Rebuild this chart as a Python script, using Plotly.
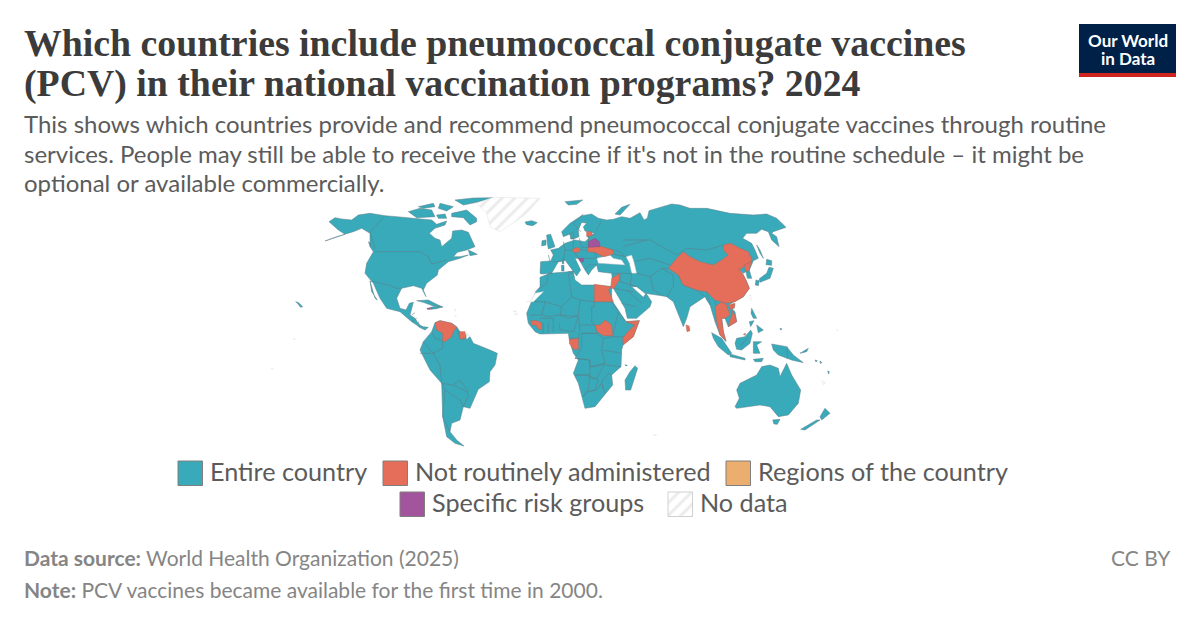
import plotly.graph_objects as go

W_PAD_X, W_PAD_Y = 260, 190   # map units for the western tracing sheet
E_PAD_X, E_PAD_Y = 540, 190   # map units for the eastern tracing sheet

TITLE_LINES = ["Which countries include pneumococcal conjugate vaccines",
               "(PCV) in their national vaccination programs? 2024"]
SUBTITLE_LINES = ["This shows which countries provide and recommend pneumococcal conjugate vaccines through routine",
                  "services. People may still be able to receive the vaccine if it's not in the routine schedule – it might be",
                  "optional or available commercially."]
LEGEND_NAMES = ["Entire country", "Not routinely administered", "Regions of the country", "Specific risk groups", "No data"]
LEGEND_COLORS = ["#38AABA", "#E56E5A", "#EBAE6E", "#A2559C", "#ffffff"]

# ---- Americas (western sheet) ----
NORTH_AMERICA = [(195,153),(230,140),(255,133),(235,120),(225,110),(207,95),(225,83),(245,87),(275,90),(295,75),(330,70),(375,77),(410,80),(450,83),(470,85),(515,90),(530,103),(560,93),(555,105),(525,115),(508,130),(525,145),(540,150),(545,170),(575,145),(578,123),(605,120),(625,127),(645,170),(620,180),(592,187),(580,200),(600,200),(625,195),(600,205),(565,215),(535,240),(532,255),(500,280),(490,300),(498,320),(485,295),(460,287),(425,295),(410,325),(420,355),(438,360),(448,340),(460,337),(455,360),(450,375),(465,385),(478,405),(490,410),(505,412),(495,420),(478,412),(470,405),(455,395),(420,365),(380,355),(360,325),(340,280),(315,250),(320,220),(340,185),(330,170),(330,130),(305,115),(280,125),(230,140)]
BAJA = [(330,273),(345,325),(352,330),(335,305)]
ELLESMERE = [(585,30),(640,24),(700,23),(650,37),(610,45)]
BAFFIN = [(575,70),(620,60),(650,85),(650,95),(630,105),(610,83),(575,80)]
VICTORIA = [(445,65),(480,55),(515,60),(525,80),(470,83)]
BANKS = [(475,50),(520,40),(525,50),(490,55)]
DEVON = [(540,40),(580,50),(560,63),(535,55)]
SOUTHAMPTON = [(530,75),(555,72),(560,85),(535,85)]
NEWFOUNDLAND = [(625,180),(652,193),(630,197)]
VANCOUVER = [(325,155),(333,162),(330,168)]
ICELAND = [(795,96),(815,92),(832,98),(818,107),(800,104)]
CUBA = [(470,332),(505,330),(548,352),(520,348),(490,337)]
HISPANIOLA_EAST = [(512,352),(535,347),(548,350),(530,356),(513,358)]
SOUTH_AMERICA = [(480,480),(490,455),(515,425),(525,398),(540,392),(575,400),(590,410),(600,425),(630,440),(640,460),(690,480),(712,490),(705,525),(690,545),(688,575),(655,598),(630,655),(610,650),(600,690),(575,700),(570,725),(590,750),(612,768),(585,760),(560,740),(548,680),(545,580),(510,540)]
VENEZUELA = [(525,398),(540,392),(575,400),(590,412),(580,425),(575,440),(555,455),(548,452),(548,430),(530,420)]
SURINAME = [(598,425),(615,425),(618,445),(600,447)]
FRENCH_GUIANA = [(618,425),(630,438),(620,447)]
HAITI = [(501,355),(512,353),(512,358),(502,358)]
GREENLAND = [(650,40),(700,22),(840,25),(800,70),(780,85),(720,125),(690,110),(680,70)]
HAWAII = [(107,335),(116,338),(128,350),(122,352),(112,340)]
W_SPECKS = [[(100,447),(105,446),(105,449)], [(33,534),(40,536),(36,539)], [(585,358),(588,360),(585,364)], [(586,375),(589,377),(586,381)], [(760,362),(770,365),(762,366)], [(762,372),(772,370),(770,376)]]

# Internal borders, western sheet
W_BORDERS = [
    [(375,77),(330,125),(345,175)],
    [(345,185),(480,185),(505,200),(515,222),(560,210)],
    [(330,273),(385,285),(410,295),(425,295)],
    [(455,375),(465,368)], [(470,385),(455,395)], [(480,410),(475,395)],
    [(515,425),(525,445),(548,452),(548,475),(520,490),(490,455)],
    [(480,490),(520,490)],
    [(520,490),(540,525),(545,580),(580,585),(620,605),(625,615),(610,650)],
    [(545,580),(555,600),(548,680),(570,725)],
    [(580,585),(600,570),(625,605)],
    [(590,412),(600,447),(620,447)],
    [(555,600),(600,630),(610,650)],
]

# ---- Old World (eastern sheet) ----
EURASIA = [(0,250),(2,215),(32,213),(40,195),(32,180),(55,175),(75,160),(90,155),(105,150),(135,155),(148,143),(140,140),(165,130),(135,123),(130,110),(140,100),(125,97),(115,120),(117,140),(100,147),(88,133),(70,140),(65,125),(90,100),(125,77),(155,72),(175,85),(200,90),(220,88),(245,80),(270,85),(300,68),(312,90),(322,85),(327,62),(395,42),(420,45),(450,55),(500,55),(570,70),(640,75),(680,72),(710,85),(738,112),(700,125),(695,130),(710,140),(717,170),(695,150),(685,125),(665,118),(650,130),(620,130),(608,145),(635,160),(645,180),(655,205),(640,212),(628,240),(635,265),(622,265),(618,245),(610,250),(595,235),(610,255),(620,275),(628,295),(610,320),(585,335),(565,345),(585,365),(590,395),(565,410),(555,385),(545,385),(550,425),(558,455),(540,435),(525,395),(510,345),(500,330),(495,320),(450,350),(440,385),(430,410),(415,375),(400,335),(380,320),(370,318),(315,310),(290,290),(275,290),(290,305),(310,322),(318,310),(335,335),(330,350),(290,385),(262,385),(255,355),(220,295),(215,250),(175,245),(170,225),(155,240),(145,255),(135,240),(115,205),(105,205),(122,240),(110,258),(85,222),(75,210),(55,215),(35,250),(5,252)]
UK = [(20,135),(32,133),(45,170),(25,177),(22,160)]
IRELAND = [(6,152),(18,150),(18,165),(5,168)]
DENMARK = [(90,130),(100,128),(103,147),(92,147)]
SICILY = [(85,245),(100,243),(97,252)]
SARDINIA = [(64,226),(72,226),(72,243),(65,243)]
CORSICA = [(67,210),(72,210),(71,222),(66,220)]
NOVAYA = [(225,72),(245,52),(270,43),(255,60),(240,75)]
SVALBARD = [(75,35),(128,30),(110,43),(85,45)]
SAKHALIN = [(650,165),(660,180),(670,205),(660,190)]
HOKKAIDO = [(680,208),(695,212),(695,226),(678,224)]
HONSHU = [(700,235),(690,265),(660,277),(658,266),(680,250),(687,232)]
KYUSHU = [(648,270),(658,272),(655,287),(646,285)]
AFRICA = [(0,262),(30,250),(85,245),(100,245),(105,270),(125,285),(160,285),(215,290),(215,330),(250,385),(258,395),(298,392),(280,440),(250,462),(245,480),(243,530),(215,555),(218,585),(190,620),(165,650),(135,655),(125,620),(115,580),(100,550),(115,510),(100,490),(88,450),(85,430),(60,430),(0,432),(-15,425),(-35,400),(-40,370),(-25,335),(-15,310),(0,290)]
MADAGASCAR = [(285,527),(293,535),(272,600),(257,600),(255,570),(270,545)]
SUMATRA = [(515,428),(545,445),(575,490),(565,495),(535,470),(520,445)]
JAVA = [(570,492),(615,505),(615,510),(570,500)]
BORNEO = [(585,460),(590,445),(615,440),(632,420),(637,430),(630,460),(605,480),(590,478)]
SULAWESI = [(640,455),(665,455),(650,465),(660,490),(640,490)]
LUZON = [(635,355),(650,385),(640,385),(633,370)]
VISAYAS = [(628,395),(642,392),(632,410)]
MINDANAO = [(650,405),(670,420),(655,428)]
NEW_GUINEA = [(695,462),(740,470),(760,495),(790,518),(755,510),(740,505),(715,495),(700,480)]
NEW_BRITAIN = [(780,490),(805,475),(800,485)]
TIMOR = [(640,508),(670,505),(665,515),(645,515)]
AUSTRALIA = [(590,600),(600,580),(650,555),(665,530),(690,525),(715,535),(720,560),(740,520),(755,555),(782,600),(775,640),(745,675),(715,680),(690,650),(660,645),(590,655),(585,650),(598,625)]
TASMANIA = [(698,690),(720,688),(712,703),(702,702)]
NZ_NORTH = [(855,655),(870,670),(845,690),(840,680)]
NZ_SOUTH = [(840,690),(795,720),(782,718),(830,690)]
E_SPECKS = [[(863,543),(868,545),(866,552)], [(825,510),(832,512),(828,516)], [(840,513),(846,518),(841,520)], [(720,415),(726,417),(722,420)], [(255,524),(262,526),(258,528)]]
E_GREY_SPECKS = [[(845,572),(856,578),(850,584)], [(340,733),(350,735),(344,738)], [(890,420),(895,421),(892,423)]]

BLACK_SEA = [(170,205),(175,220),(210,222),(255,225),(245,210),(220,205),(210,195),(190,200)]
CASPIAN = [(258,200),(275,195),(282,215),(290,250),(275,250),(268,220)]
WHITE_SEAS = [BLACK_SEA, CASPIAN]

CHINA = [(385,235),(410,205),(430,185),(450,200),(480,215),(520,225),(545,210),(565,195),(550,180),(550,165),(572,160),(600,175),(625,185),(637,210),(615,225),(600,240),(595,235),(610,255),(620,275),(628,295),(610,320),(585,335),(560,340),(545,335),(525,330),(500,305),(470,300),(430,285),(415,255)]
NORTH_KOREA = [(612,225),(635,213),(628,240),(618,245)]
THAILAND_LAOS = [(525,350),(545,335),(560,345),(570,375),(555,385),(545,385),(550,425),(558,452),(540,435),(530,395)]
VIETNAM = [(565,345),(585,340),(575,360),(585,375),(590,395),(565,410),(572,385),(578,370)]
HAINAN = [(575,345),(585,343),(583,355),(575,355)]
SRI_LANKA = [(438,405),(447,408),(450,422),(441,425)]
EGYPT = [(163,283),(190,286),(215,290),(205,300),(220,335),(163,335)]
LEVANT = [(215,265),(240,250),(238,270),(222,295),(212,295)]
UKRAINE = [(145,170),(170,170),(180,168),(218,180),(220,192),(200,198),(190,200),(165,187),(143,185)]
BALTIC = [(140,125),(155,125),(157,138),(140,138)]
HUNGARY = [(98,178),(112,172),(122,178),(115,187),(100,187)]
SOUTH_SUDAN = [(165,405),(180,405),(195,390),(215,405),(218,437),(190,437),(172,425)]
SOMALIA = [(258,395),(298,392),(280,440),(250,465),(248,445),(268,420),(285,405)]
GABON = [(90,448),(115,445),(115,478),(100,478),(88,460)]
GUINEA = [(-28,392),(-10,392),(5,398),(5,420),(-8,415),(-12,405),(-25,405)]
BELARUS = [(145,155),(165,145),(178,155),(180,170),(145,172)]
BOSNIA = [(115,205),(130,205),(130,215),(122,215)]
BRUNEI = [(610,433),(616,430),(616,436)]
WESTERN_SAHARA = [(-40,335),(-25,330),(-15,310),(10,305),(-5,320),(-20,335)]
TAIWAN = [(628,315),(636,318),(633,332),(627,325)]

E_BORDERS = [
    [(25,250),(20,280),(-15,305)], [(85,250),(92,290),(95,320),(65,350)],
    [(95,320),(120,330),(163,335)], [(163,335),(163,350),(155,350),(155,395),(165,405)],
    [(15,335),(65,350),(60,375),(25,380),(5,375),(-30,375)], [(-20,335),(15,335),(5,375)],
    [(120,330),(115,375),(85,385),(60,375)], [(60,375),(115,380),(100,425),(60,420),(58,400)],
    [(115,380),(120,420),(115,445),(88,445)], [(120,405),(165,405),(172,430),(125,430)],
    [(125,430),(170,430),(190,445),(185,480),(195,520),(170,530),(150,530),(148,510),(105,505),(115,490),(125,470),(125,430)],
    [(105,505),(150,510),(150,555),(105,555)], [(150,530),(195,520),(170,565),(150,560)],
    [(105,555),(150,555),(145,595),(128,620)], [(145,560),(175,570),(165,600),(143,605)],
    [(128,620),(145,605),(170,600),(185,580),(195,610)], [(195,525),(243,530)], [(190,600),(185,575),(205,550),(215,555)],
    [(190,480),(245,490)], [(190,445),(218,440),(250,440),(250,462)], [(218,437),(235,365),(258,395)], [(215,335),(235,365)],
    [(0,385),(40,385),(40,425)], [(10,400),(10,430)], [(25,400),(25,430)],
    [(38,215),(60,215),(75,210)], [(25,195),(30,215)], [(70,155),(75,180),(70,210)], [(75,180),(100,180),(115,205)], [(100,148),(100,175)],
    [(118,145),(125,172),(145,172)], [(122,178),(150,185),(165,187),(170,205)], [(130,205),(150,205),(170,205)], [(135,240),(150,222),(170,225)],
    [(122,125),(100,100),(130,72)], [(168,123),(185,92)], [(145,155),(148,128)],
    [(180,170),(240,185),(255,200)], [(220,192),(258,200)],
    [(282,215),(330,205),(390,225)], [(250,150),(330,150),(410,195)], [(248,170),(320,150)], [(410,195),(440,175),(500,180),(550,165)],
    [(290,250),(330,260),(365,235),(385,235)], [(330,260),(340,300),(370,318)], [(275,250),(270,290)], [(215,250),(250,250),(275,250)],
    [(240,250),(240,275),(290,290)], [(222,295),(280,305)], [(260,300),(305,340)], [(245,340),(290,350)],
    [(365,235),(400,255),(400,290),(380,320)], [(415,255),(430,285),(470,300),(495,320)], [(500,305),(510,345)], [(525,330),(530,360)],
    [(600,470),(625,440)], [(742,470),(742,505)],
]

WEST_TEAL = [NORTH_AMERICA, BAJA, ELLESMERE, BAFFIN, VICTORIA, BANKS, DEVON, SOUTHAMPTON, NEWFOUNDLAND, VANCOUVER, ICELAND, CUBA, HISPANIOLA_EAST, SOUTH_AMERICA, HAWAII]
EAST_TEAL = [EURASIA, UK, IRELAND, DENMARK, SICILY, SARDINIA, CORSICA, NOVAYA, SVALBARD, SAKHALIN, HOKKAIDO, HONSHU, KYUSHU, AFRICA, MADAGASCAR, SUMATRA, JAVA, BORNEO, SULAWESI, LUZON, VISAYAS, MINDANAO, NEW_GUINEA, NEW_BRITAIN, TIMOR, AUSTRALIA, TASMANIA, NZ_NORTH, NZ_SOUTH] + E_SPECKS
WEST_RED = [VENEZUELA, SURINAME]
EAST_RED = [CHINA, NORTH_KOREA, THAILAND_LAOS, VIETNAM, HAINAN, SRI_LANKA, EGYPT, LEVANT, UKRAINE, BALTIC, HUNGARY, SOUTH_SUDAN, SOMALIA, GABON, GUINEA, BRUNEI]
WEST_PURPLE = [HAITI]
EAST_PURPLE = [BELARUS, BOSNIA]
WEST_NODATA = [GREENLAND, FRENCH_GUIANA] + W_SPECKS
EAST_NODATA = [WESTERN_SAHARA, TAIWAN] + E_GREY_SPECKS

BORDER = "#5e7f89"


def sheet(shapes, dx, dy, closed=True):
    xs, ys = [], []
    for s in shapes:
        pts = list(s) + ([s[0]] if closed else [])
        xs += [dx + p[0] / 3 for p in pts] + [None]
        ys += [dy + p[1] / 3 for p in pts] + [None]
    return xs, ys


def both(west, east, closed=True):
    a = sheet(west, W_PAD_X, W_PAD_Y, closed)
    b = sheet(east, E_PAD_X, E_PAD_Y, closed)
    return a[0] + b[0], a[1] + b[1]


fig = go.Figure()


def fill(xy, color, pattern=None, line=BORDER, width=0.5):
    fig.add_trace(go.Scatter(x=xy[0], y=xy[1], mode="lines", fill="toself", fillcolor=color,
                             fillpattern=pattern, line=dict(color=line, width=width),
                             hoverinfo="skip", showlegend=False))


HATCH = dict(shape="/", fgcolor="#d9d9d9", bgcolor="#ffffff", size=9, solidity=0.35)

fill(both(WEST_TEAL, EAST_TEAL), LEGEND_COLORS[0])
fill(both([], WHITE_SEAS), "#ffffff", line="#9fb4ba")
bx, by = both(W_BORDERS, E_BORDERS, closed=False)
fig.add_trace(go.Scatter(x=bx, y=by, mode="lines", line=dict(color=BORDER, width=0.6), hoverinfo="skip", showlegend=False))
fill(both(WEST_RED, EAST_RED), LEGEND_COLORS[1], line="#a96a60")
fill(both(WEST_PURPLE, EAST_PURPLE), LEGEND_COLORS[3], line="#7d5a7c")
fill(both(WEST_NODATA, EAST_NODATA), "#ffffff", pattern=HATCH, line="#e0e0e0")

# Legend
SWATCH_X = [178, 383, 726, 400, 668]
SWATCH_Y = [461, 461, 461, 492, 492]
LABEL_X = [210, 415, 758, 432, 700]
SW = 24.5
for i, name in enumerate(LEGEND_NAMES):
    sx, sy = SWATCH_X[i], SWATCH_Y[i]
    fill(([sx, sx + SW, sx + SW, sx, sx], [sy, sy, sy + SW, sy + SW, sy]), LEGEND_COLORS[i],
         pattern=HATCH if name == "No data" else None,
         line="#d0d0d0" if name == "No data" else "#7f7f7f", width=1)

# Logo
fig.add_shape(type="rect", x0=1079, x1=1176, y0=24, y1=73, fillcolor="#002147", line_width=0, layer="above")
fig.add_shape(type="rect", x0=1079, x1=1176, y0=73, y1=77, fillcolor="#CE261E", line_width=0, layer="above")


def note(x, y, text, size, color, family="Lato", anchor="left"):
    fig.add_annotation(x=x, y=y, xref="x", yref="y", text=text, showarrow=False, xanchor=anchor, yanchor="middle",
                       align=anchor, font=dict(family=family, size=size, color=color), borderpad=0, borderwidth=0)


for y, t in zip([43, 83], TITLE_LINES):
    note(24, y, f"<b>{t}</b>", 37.8, "#3b3b3b", family="Liberation Serif")
for y, t in zip([123, 153, 182], SUBTITLE_LINES):
    note(24, y, t, 24, "#5b5b5b")
for i, name in enumerate(LEGEND_NAMES):
    note(LABEL_X[i], SWATCH_Y[i] + 10, name, 25.2, "#5b5b5b")
note(24, 557, "<b>Data source:</b> World Health Organization (2025)", 21, "#858585")
note(1171, 557, "CC BY", 21, "#858585", anchor="right")
note(24, 589, "<b>Note:</b> PCV vaccines became available for the first time in 2000.", 21, "#858585")
note(1127.5, 40, "<b>Our World</b>", 17, "#ffffff", anchor="center")
note(1127.5, 58, "<b>in Data</b>", 17, "#ffffff", anchor="center")

fig.update_layout(width=1200, height=627, margin=dict(l=0, r=0, t=0, b=0), paper_bgcolor="#ffffff", plot_bgcolor="#ffffff",
                  xaxis=dict(range=[0, 1200], visible=False, fixedrange=True),
                  yaxis=dict(range=[627, 0], visible=False, fixedrange=True), showlegend=False)
fig.write_html("out.html", config=dict(displayModeBar=False),
               post_script="document.body.style.margin='0';document.documentElement.style.overflow='hidden';")
